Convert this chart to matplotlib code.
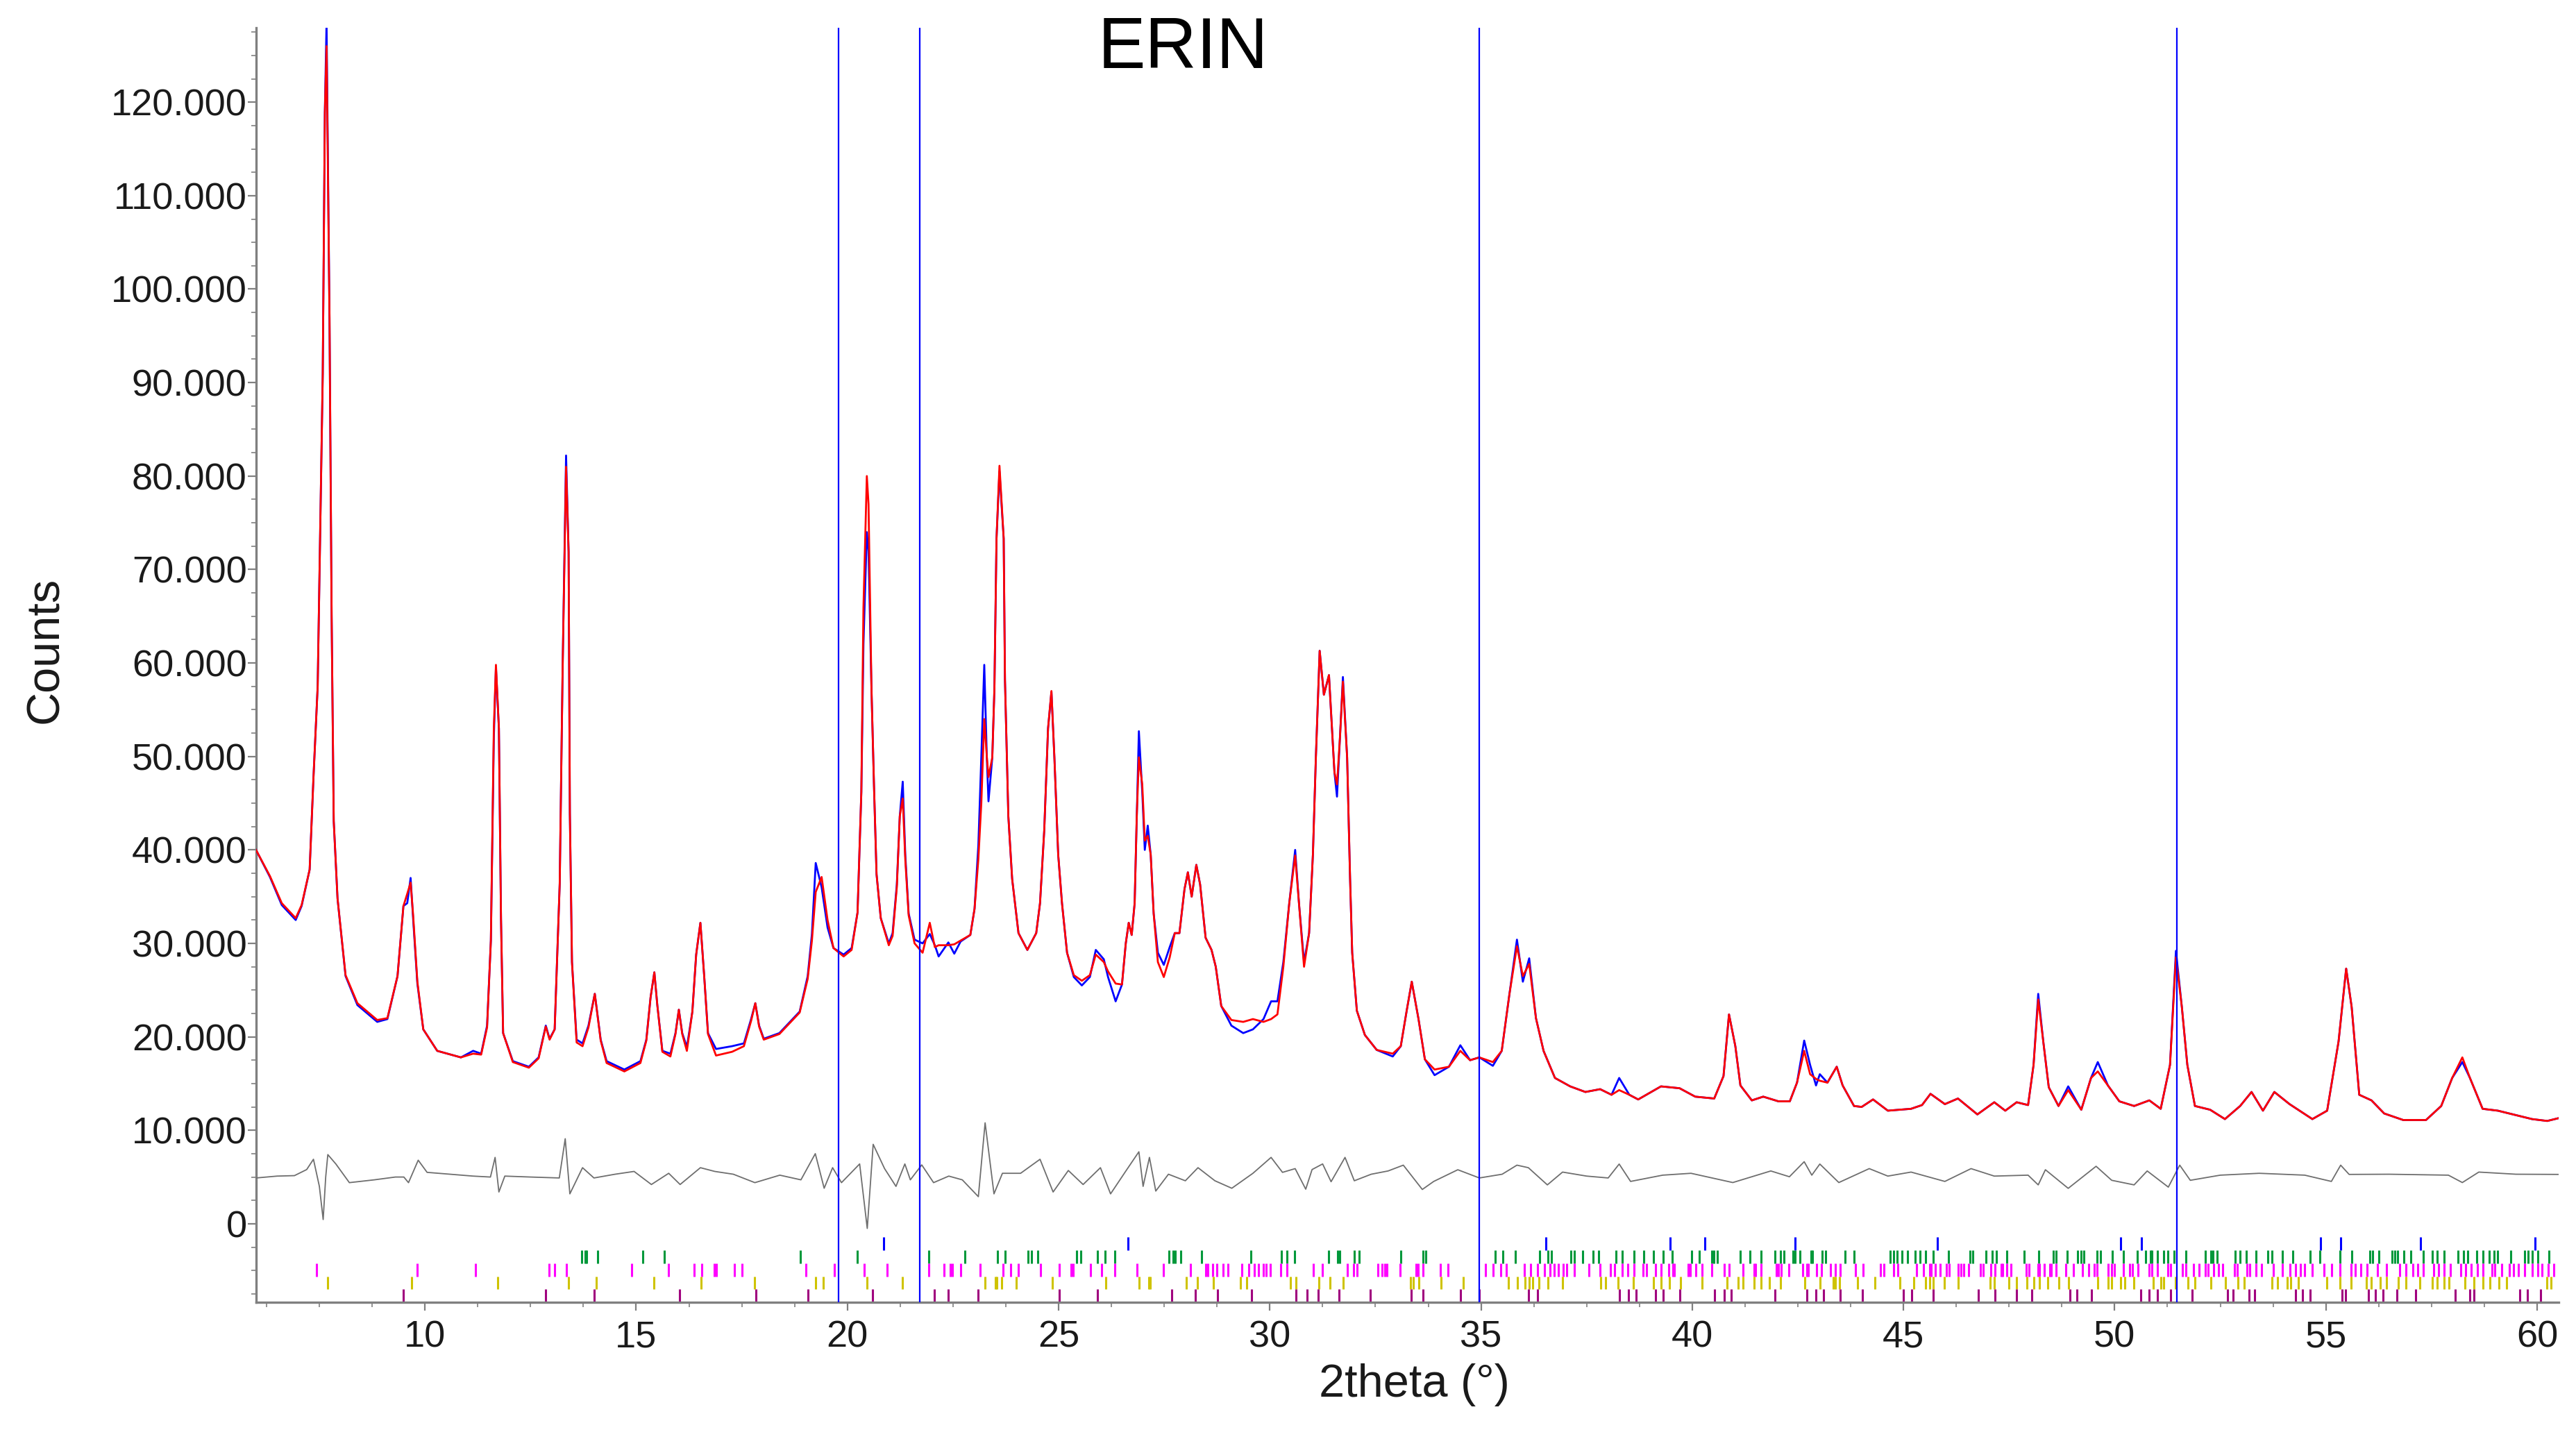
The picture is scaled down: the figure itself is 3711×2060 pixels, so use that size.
import matplotlib
matplotlib.use("Agg")
import matplotlib.pyplot as plt
from matplotlib.ticker import MultipleLocator, FuncFormatter

plt.rcParams['font.family'] = ['Liberation Sans', 'DejaVu Sans']

# ---------------- data ----------------
two_theta = [6.00, 6.33, 6.61, 6.94, 7.08, 7.27, 7.36, 7.46, 7.52, 7.58, 7.63, 7.67, 7.74, 7.79, 7.84, 7.93,
             8.12, 8.40, 8.87, 9.11, 9.35, 9.49, 9.58, 9.66, 9.72, 9.82, 9.96, 10.29, 10.85, 11.14, 11.33,
             11.47, 11.56, 11.63, 11.68, 11.75, 11.80, 11.85, 12.08, 12.46, 12.69, 12.86, 12.95, 13.07, 13.19,
             13.26, 13.34, 13.40, 13.43, 13.48, 13.59, 13.73, 13.87, 14.02, 14.16, 14.30, 14.72, 15.10, 15.24,
             15.34, 15.43, 15.50, 15.62, 15.81, 15.93, 16.01, 16.09, 16.20, 16.33, 16.42, 16.52, 16.61, 16.70,
             16.89, 17.27, 17.55, 17.72, 17.82, 17.91, 18.02, 18.39, 18.87, 19.06, 19.16, 19.25, 19.39, 19.53,
             19.67, 19.91, 20.10, 20.24, 20.33, 20.38, 20.46, 20.50, 20.57, 20.63, 20.69, 20.79, 20.98, 21.07,
             21.17, 21.24, 21.31, 21.37, 21.45, 21.59, 21.78, 21.95, 22.07, 22.16, 22.39, 22.53, 22.68, 22.91,
             23.01, 23.10, 23.17, 23.24, 23.30, 23.34, 23.43, 23.48, 23.53, 23.60, 23.70, 23.73, 23.81, 23.90,
             24.05, 24.26, 24.47, 24.56, 24.66, 24.75, 24.83, 24.90, 24.99, 25.08, 25.20, 25.36, 25.55, 25.74,
             25.88, 26.07, 26.17, 26.35, 26.50, 26.59, 26.66, 26.73, 26.80, 26.85, 26.90, 26.98, 27.04, 27.11,
             27.18, 27.25, 27.35, 27.49, 27.63, 27.75, 27.86, 27.98, 28.06, 28.15, 28.26, 28.35, 28.48, 28.62,
             28.72, 28.85, 29.09, 29.37, 29.60, 29.85, 30.03, 30.18, 30.32, 30.46, 30.60, 30.69, 30.81, 30.93,
             31.02, 31.09, 31.18, 31.28, 31.40, 31.53, 31.59, 31.66, 31.73, 31.83, 31.90, 31.95, 32.06, 32.25,
             32.53, 32.91, 33.10, 33.24, 33.36, 33.52, 33.67, 33.90, 34.24, 34.51, 34.74, 34.96, 35.28, 35.49,
             35.67, 35.85, 35.99, 36.14, 36.30, 36.48, 36.75, 37.11, 37.47, 37.82, 38.09, 38.27, 38.51, 38.72,
             39.26, 39.70, 40.07, 40.52, 40.74, 40.87, 41.02, 41.14, 41.41, 41.68, 42.04, 42.31, 42.48, 42.65,
             42.79, 42.93, 43.02, 43.20, 43.42, 43.56, 43.83, 44.01, 44.28, 44.63, 45.18, 45.44, 45.64, 45.98,
             46.29, 46.75, 47.15, 47.41, 47.68, 47.95, 48.08, 48.19, 48.31, 48.44, 48.67, 48.90, 49.21, 49.44,
             49.60, 49.84, 50.11, 50.46, 50.82, 51.09, 51.31, 51.45, 51.59, 51.72, 51.90, 52.26, 52.61, 52.97,
             53.24, 53.51, 53.78, 54.14, 54.68, 55.03, 55.30, 55.48, 55.61, 55.79, 56.08, 56.38, 56.83, 57.37,
             57.73, 57.99, 58.23, 58.41, 58.71, 59.07, 59.34, 59.88, 60.24, 60.51]

counts_obs = [40000, 37100, 34100, 32500, 34000, 37900, 47700, 57500, 74200, 90900, 118900, 128500, 96900, 65100, 43100, 34800,
              26500, 23400, 21600, 21900, 26500, 34000, 34300, 37000, 32600, 25700, 20800, 18500, 17800, 18500, 18200,
              21200, 30300, 52000, 59500, 53000, 32600, 20400, 17400, 16800, 17800, 21200, 19800, 20800, 36400,
              59800, 82200, 71900, 43900, 28000, 19700, 19300, 21200, 24600, 19700, 17400, 16500, 17400, 19700,
              24200, 26900, 23400, 18500, 18200, 20400, 22900, 20400, 18900, 22700, 28800, 32200, 26500, 20400,
              18700, 19000, 19300, 21900, 23600, 21200, 19800, 20400, 22700, 26500, 31000, 38600, 36000, 31700,
              29500, 28800, 29500, 33300, 46200, 62000, 74000, 72000, 57200, 46800, 37400, 32700, 30000, 31100,
              36300, 43600, 47300, 39500, 33200, 30400, 30000, 31000, 29800, 28600, 30100, 28900, 30200, 30900,
              33700, 40500, 49900, 59800, 50000, 45200, 49900, 57200, 73300, 80500, 73300, 58200, 43600, 36900,
              31100, 29300, 31100, 34300, 42100, 53000, 56900, 49900, 39500, 34300, 29000, 26400, 25500, 26400,
              29300, 28300, 26400, 23800, 25600, 30000, 32200, 30900, 34300, 43600, 52700, 46200, 40000, 42600,
              39500, 33200, 29000, 27700, 29600, 31100, 31100, 35800, 37600, 35000, 38400, 36300, 30600, 29300,
              27500, 23300, 21200, 20400, 20800, 21900, 23800, 23800, 28000, 34300, 40000, 34300, 28000, 31100,
              39500, 49900, 61300, 56600, 58700, 48300, 45700, 52000, 58500, 49900, 36900, 29000, 22800, 20200,
              18600, 17900, 19000, 22800, 25900, 21900, 17600, 15900, 16800, 19100, 17500, 17800, 16900, 18500,
              24500, 30400, 25900, 28400, 22000, 18500, 15600, 14700, 14100, 14400, 13800, 15600, 13800, 13300,
              14700, 14500, 13600, 13400, 15800, 22400, 19000, 14800, 13200, 13600, 13100, 13100, 15100, 19600,
              17000, 14800, 16000, 15100, 16800, 14800, 12600, 12500, 13300, 12100, 12300, 12700, 13900, 12800,
              13400, 11700, 13000, 12100, 13000, 12700, 17000, 24600, 19500, 14600, 12600, 14700, 12200, 15600,
              17300, 14800, 13100, 12600, 13200, 12300, 17000, 29200, 23200, 17000, 12600, 12200, 11200, 12600,
              14100, 12100, 14100, 12800, 11200, 12100, 19500, 27300, 23200, 13800, 13200, 11800, 11100, 11100,
              12600, 15600, 17300, 15600, 12300, 12100, 11800, 11200, 11000, 11300]

counts_calc = [40000, 37200, 34300, 32700, 34100, 37900, 47700, 57500, 74200, 90900, 118900, 126000, 96900, 65100, 43100, 34800,
               26600, 23600, 21800, 22000, 26500, 34000, 35300, 36500, 33000, 25900, 20800, 18500, 17800, 18200, 18100,
               21000, 30300, 53000, 59800, 53000, 32600, 20400, 17300, 16700, 17700, 21100, 19700, 20800, 36400,
               59800, 81000, 71900, 43900, 28000, 19400, 19000, 21000, 24600, 19600, 17200, 16300, 17200, 19600,
               24200, 26900, 23400, 18400, 17900, 20300, 22900, 20300, 18500, 22700, 28800, 32200, 26500, 20300,
               18000, 18400, 19000, 21700, 23600, 21100, 19700, 20300, 22600, 26200, 30300, 35500, 37100, 32500,
               29500, 28600, 29300, 33300, 46200, 65900, 80000, 77000, 57200, 46800, 37400, 32700, 29800, 30800,
               36000, 43600, 45500, 39000, 33000, 30000, 29000, 32200, 29600, 29800, 29800, 29900, 30300, 30900,
               33700, 39000, 45000, 54000, 50000, 47800, 49900, 57200, 73300, 81100, 73300, 58200, 43600, 36900,
               31100, 29300, 31100, 34300, 42100, 53000, 57000, 49900, 39500, 34300, 29000, 26600, 26000, 26600,
               28800, 28000, 27000, 25700, 25600, 30000, 32200, 30900, 34300, 43600, 49900, 47000, 41000, 41500,
               39500, 33200, 28000, 26400, 28500, 31100, 31100, 35800, 37600, 35000, 38400, 36300, 30600, 29300,
               27500, 23300, 21800, 21600, 21900, 21600, 21900, 22400, 27500, 34300, 39400, 34300, 27500, 31100,
               39500, 49900, 61300, 56600, 58700, 48300, 47000, 52000, 58000, 49900, 36900, 29000, 22800, 20200,
               18600, 18200, 19000, 22800, 25900, 21900, 17600, 16500, 16800, 18500, 17500, 17800, 17300, 18500,
               24500, 29700, 26500, 27800, 22000, 18500, 15600, 14700, 14100, 14400, 13800, 14300, 13800, 13300,
               14700, 14500, 13600, 13400, 15800, 22400, 19000, 14800, 13200, 13600, 13100, 13100, 15100, 18500,
               16000, 15500, 15300, 15100, 16800, 14800, 12600, 12500, 13300, 12100, 12300, 12700, 13900, 12800,
               13400, 11700, 13000, 12100, 13000, 12700, 17000, 24000, 19500, 14600, 12600, 14300, 12200, 15600,
               16300, 14800, 13100, 12600, 13200, 12300, 17000, 28500, 23200, 17000, 12600, 12200, 11200, 12600,
               14100, 12100, 14100, 12800, 11200, 12100, 19500, 27300, 23200, 13800, 13200, 11800, 11100, 11100,
               12600, 15600, 17800, 15600, 12300, 12100, 11800, 11200, 11000, 11300]

diff_x = [6.00, 6.50, 6.91, 7.20, 7.36, 7.50, 7.59, 7.65, 7.70, 7.89, 8.21, 8.80, 9.30, 9.50, 9.61, 9.84, 10.05,
          10.60, 11.14, 11.55, 11.66, 11.75, 11.89, 12.50, 13.18, 13.32, 13.43, 13.73, 14.00, 14.50, 14.95, 15.36,
          15.77, 16.04, 16.52, 16.86, 17.30, 17.81, 18.40, 18.90, 19.24, 19.45, 19.65, 19.86, 20.29, 20.47, 20.61,
          20.88, 21.15, 21.36, 21.49, 21.76, 22.04, 22.40, 22.72, 23.10, 23.26, 23.47, 23.67, 24.10, 24.56, 24.87,
          25.23, 25.58, 25.99, 26.23, 26.60, 26.90, 27.00, 27.15, 27.30, 27.60, 28.00, 28.30, 28.70, 29.10, 29.60,
          30.03, 30.30, 30.60, 30.85, 31.00, 31.25, 31.45, 31.78, 32.00, 32.40, 32.80, 33.16, 33.61, 33.88, 34.45,
          34.96, 35.50, 35.85, 36.12, 36.57, 36.93, 37.50, 38.01, 38.27, 38.54, 39.30, 39.97, 40.96, 41.86, 42.30,
          42.65, 42.83, 43.02, 43.47, 44.19, 44.63, 45.18, 45.98, 46.60, 47.15, 47.95, 48.19, 48.36, 48.90, 49.56,
          49.93, 50.46, 50.77, 51.27, 51.54, 51.79, 52.50, 53.42, 54.50, 55.13, 55.35, 55.55, 56.50, 57.90, 58.23,
          58.62, 59.50, 60.51]
diff_y = [4900, 5100, 5150, 5800, 6900, 4000, 450, 5000, 7400, 6400, 4400, 4700, 5000, 5000, 4400, 6800, 5500,
          5300, 5100, 5000, 7100, 3400, 5100, 5000, 4900, 9100, 3200, 6000, 4900, 5300, 5600, 4200,
          5400, 4200, 6000, 5600, 5300, 4400, 5200, 4700, 7500, 3800, 6000, 4400, 6400, -500, 8500,
          5900, 4000, 6400, 4700, 6300, 4400, 5100, 4700, 2900, 10800, 3200, 5400, 5400, 6900, 3400,
          5700, 4200, 6000, 3200, 5700, 7700, 4000, 7100, 3500, 5300, 4600, 6000, 4600, 3800, 5400,
          7100, 5500, 5900, 3700, 5800, 6400, 4500, 7100, 4600, 5300, 5650, 6270, 3670, 4530, 5780,
          4900, 5300, 6270, 6000, 4160, 5530, 5100, 4900, 6390, 4530, 5200, 5400, 4410, 5650, 5030,
          6640, 5200, 6390, 4410, 5900, 5100, 5530, 4530, 5900, 5100, 5200, 4160, 5780, 3790, 6150,
          4650, 4160, 5650, 3920, 6270, 4650, 5200, 5400, 5200, 4530, 6270, 5280, 5300, 5200, 4410,
          5530, 5300, 5280]

# reflection positions (2theta) of the five phases
refl_blue = [20.86, 26.64, 36.53, 39.48, 40.29, 42.43, 45.80, 50.14, 50.64, 54.88, 55.35, 57.24, 59.95]
refl_green = [13.71, 13.79, 13.83, 14.09, 15.16, 15.67, 18.89, 20.24, 21.93, 22.78, 23.55, 23.73, 24.27, 24.36,
              24.50, 25.43, 25.52, 25.92, 26.10, 26.33, 27.62, 27.71, 27.76, 27.89, 28.39, 29.55, 30.28, 30.40,
              30.58, 31.39, 31.60, 31.65, 32.00, 32.11, 33.10, 33.62, 33.70, 35.33, 35.51, 35.81, 36.39, 36.58,
              36.67, 37.13, 37.21, 37.41, 37.65, 37.79, 38.19, 38.34, 38.62, 38.86, 39.08, 39.32, 39.53, 39.98,
              40.16, 40.46, 40.51, 40.60, 41.13, 41.37, 41.63, 41.95, 42.09, 42.17, 42.39, 42.43, 42.55, 42.81,
              42.85, 43.07, 43.15, 43.62, 43.83, 44.68, 44.77, 44.85, 44.96, 45.10, 45.27, 45.40, 45.52, 45.71,
              46.06, 46.57, 46.64, 46.96, 47.10, 47.20, 47.45, 47.86, 48.21, 48.54, 48.61, 48.87, 49.13, 49.20,
              49.27, 49.59, 49.66, 49.95, 50.21, 50.54, 50.74, 50.84, 50.88, 51.02, 51.16, 51.26, 51.40, 51.69,
              52.14, 52.28, 52.32, 52.42, 52.85, 52.97, 53.11, 53.34, 53.62, 53.72, 53.97, 54.22, 54.62, 54.85,
              55.34, 55.62, 56.04, 56.11, 56.26, 56.57, 56.64, 56.70, 56.85, 57.01, 57.31, 57.52, 57.63, 57.80,
              58.12, 58.26, 58.36, 58.57, 58.72, 58.86, 58.98, 59.07, 59.38, 59.70, 59.79, 59.88, 60.02, 60.28]
refl_magenta = [7.44, 9.81, 11.20, 12.94, 13.07, 13.35, 14.89, 15.77, 16.37, 16.56, 16.85, 16.90, 17.33, 17.51,
                19.02, 19.69, 20.40, 20.94, 21.93, 22.29, 22.43, 22.48, 22.69, 23.15, 23.69, 23.87, 24.04, 24.58,
                25.02, 25.29, 25.34, 25.75, 26.01, 26.33, 26.86, 27.48, 28.12, 28.49, 28.54, 28.65, 28.75, 28.89,
                29.01, 29.33, 29.50, 29.64, 29.73, 29.84, 29.91, 30.01, 30.26, 30.40, 31.03, 31.24, 31.83, 31.98,
                32.07, 32.56, 32.65, 32.72, 32.77, 33.08, 33.46, 33.51, 33.62, 34.03, 34.21, 35.11, 35.28, 35.46,
                35.60, 36.03, 36.18, 36.34, 36.50, 36.64, 36.73, 36.83, 36.95, 37.02, 37.21, 37.56, 37.81, 38.06,
                38.16, 38.34, 38.48, 38.62, 38.84, 38.92, 39.13, 39.27, 39.44, 39.55, 39.58, 39.90, 39.95, 40.09,
                40.23, 40.46, 40.76, 40.88, 41.20, 41.46, 41.49, 41.63, 41.99, 42.04, 42.11, 42.29, 42.62, 42.71,
                42.74, 42.95, 43.06, 43.27, 43.38, 43.50, 43.87, 44.04, 44.46, 44.53, 44.77, 44.86, 45.31, 45.48,
                45.62, 45.66, 45.76, 45.87, 46.01, 46.08, 46.29, 46.36, 46.43, 46.54, 46.82, 46.89, 47.06, 47.17,
                47.31, 47.34, 47.45, 47.55, 47.91, 47.98, 48.19, 48.22, 48.33, 48.47, 48.50, 48.61, 48.85, 49.03,
                49.24, 49.38, 49.52, 49.59, 49.84, 49.93, 50.00, 50.21, 50.35, 50.42, 50.56, 50.81, 50.88, 51.02,
                51.26, 51.33, 51.61, 51.68, 51.86, 52.00, 52.14, 52.21, 52.35, 52.46, 52.55, 52.84, 52.90, 53.13,
                53.20, 53.34, 53.48, 53.76, 53.97, 54.15, 54.29, 54.39, 54.50, 54.67, 54.95, 55.13, 55.34, 55.59,
                55.69, 55.83, 55.97, 56.22, 56.43, 56.75, 56.89, 57.06, 57.17, 57.31, 57.56, 57.66, 57.80, 57.94,
                58.19, 58.30, 58.44, 58.58, 58.72, 58.93, 59.00, 59.17, 59.35, 59.45, 59.56, 59.70, 59.88, 60.02,
                60.12, 60.26, 60.40]
refl_yellow = [7.70, 9.68, 11.73, 13.39, 14.06, 15.42, 16.53, 17.81, 19.25, 19.43, 20.46, 21.31, 23.26, 23.50,
               23.54, 23.66, 24.00, 24.85, 26.11, 26.91, 27.13, 27.17, 28.03, 28.29, 28.66, 29.31, 29.45, 30.49,
               30.62, 31.16, 31.43, 31.74, 33.33, 33.40, 33.53, 34.05, 34.58, 35.65, 35.86, 36.05, 36.14, 36.23,
               36.37, 36.58, 36.93, 37.84, 37.95, 38.24, 38.60, 39.08, 39.27, 39.46, 39.72, 40.23, 40.83, 41.09,
               41.20, 41.47, 41.63, 41.82, 42.09, 42.67, 43.02, 43.34, 43.38, 43.48, 43.92, 44.32, 44.91, 45.24,
               45.53, 45.62, 45.71, 45.97, 46.29, 47.05, 47.15, 47.50, 47.67, 47.93, 48.08, 48.22, 48.42, 48.68,
               48.91, 49.60, 49.84, 49.93, 50.14, 50.24, 50.45, 50.91, 51.09, 51.16, 51.44, 51.73, 51.90, 52.28,
               52.63, 52.92, 53.07, 53.72, 53.86, 54.08, 54.17, 54.34, 55.02, 55.34, 55.60, 55.95, 56.08, 56.29,
               56.43, 56.71, 56.89, 57.22, 57.52, 57.63, 57.80, 57.92, 58.29, 58.51, 58.72, 58.89, 59.10, 59.28,
               60.23, 60.33]
refl_purple = [9.49, 12.86, 14.01, 16.03, 17.84, 19.06, 20.59, 22.05, 22.38, 23.10, 25.02, 25.92, 27.67, 28.23,
               28.77, 29.57, 30.62, 30.89, 31.15, 31.63, 32.37, 33.35, 33.62, 34.52, 34.96, 36.12, 36.34, 38.28,
               38.49, 38.67, 39.13, 39.32, 39.71, 40.52, 40.76, 40.93, 41.95, 42.71, 42.93, 43.11, 43.50, 44.03,
               44.99, 45.19, 45.71, 46.78, 47.17, 47.68, 48.03, 48.94, 49.10, 49.45, 50.61, 50.81, 51.02, 51.33,
               51.83, 52.67, 52.81, 53.18, 53.32, 54.29, 54.45, 54.62, 55.38, 55.47, 56.01, 56.18, 56.36, 56.68,
               57.13, 58.06, 58.41, 58.51, 59.59, 59.77, 60.08]

marker_lines = [19.79, 21.71, 34.95, 51.47]

title_text = "ERIN"
x_label = "2theta (°)"
y_label = "Counts"

# ---------------- figure ----------------
W, H = 3711, 2060
fig = plt.figure(figsize=(W / 100, H / 100), dpi=100)
ax = fig.add_axes([368.8 / W, (H - 1876) / H, (3686 - 368.8) / W, (1876 - 39.5) / H])

ax.set_xlim(6.0, 60.51)
ax.set_ylim(-8400, 128000)

ax.plot(two_theta, counts_obs, color='#0000ff', lw=2.0, zorder=3)
ax.plot(two_theta, counts_calc, color='#ff0000', lw=2.0, zorder=4)
ax.plot(diff_x, diff_y, color='#6e6e6e', lw=1.3, zorder=3)

rows = [
    (refl_blue, -2820, -1430, '#0000ff'),
    (refl_green, -4230, -2820, '#00983a'),
    (refl_magenta, -5620, -4230, '#ff00ff'),
    (refl_yellow, -7020, -5620, '#cfc300'),
    (refl_purple, -8400, -7020, '#a0007e'),
]
for pos, y0, y1, col in rows:
    ax.vlines(pos, y0, y1, colors=col, lw=2.2, zorder=2)

for xv in marker_lines:
    ax.axvline(xv, color='#0000ff', lw=1.6, zorder=5)

for s in ['top', 'right']:
    ax.spines[s].set_visible(False)
for s in ['left', 'bottom']:
    ax.spines[s].set_color('#808080')
    ax.spines[s].set_linewidth(2.4)

ax.xaxis.set_major_locator(MultipleLocator(5))
ax.xaxis.set_minor_locator(MultipleLocator(1.25))
ax.yaxis.set_major_locator(MultipleLocator(10000))
ax.yaxis.set_minor_locator(MultipleLocator(2500))
ax.yaxis.set_major_formatter(FuncFormatter(lambda v, p: f"{int(round(v)):,}".replace(",", ".")))

ax.set_yticks([v for v in range(0, 130000, 10000)])
ax.tick_params(axis='both', which='major', colors='#808080', labelcolor='#1a1a1a',
               length=8.5, width=1.6, labelsize=39)
ax.tick_params(axis='both', which='minor', colors='#808080', length=5, width=1.2)
ax.tick_params(axis='x', which='major', pad=10)
ax.tick_params(axis='y', which='major', pad=1)

ax.text(0.503, -0.0648, x_label, transform=ax.transAxes, ha='center', va='center',
        fontsize=48, color='#1a1a1a')
ax.text(-0.0913, 0.5115, y_label, transform=ax.transAxes, rotation=90, ha='center', va='center',
        fontsize=48, color='#1a1a1a')
fig.text(1704 / W, 1 - 71 / H, title_text, ha='center', va='center', fontsize=74, color='#000000')

fig.savefig('out.png', dpi=100)
